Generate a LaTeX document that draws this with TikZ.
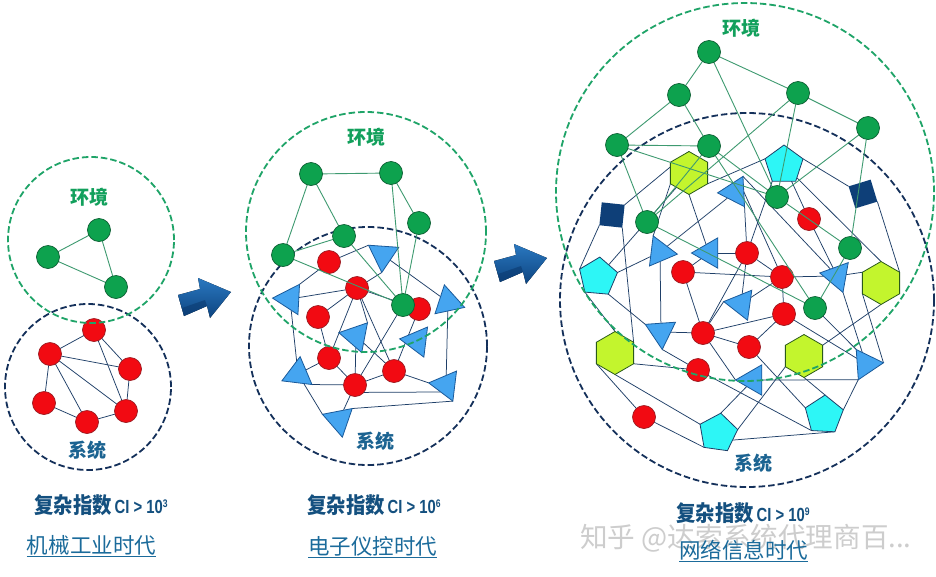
\documentclass[tikz,border=0pt]{standalone}
\usepackage{fontspec}
\usepackage{graphicx}
\usetikzlibrary{shapes.geometric,calc}
\setmainfont{Liberation Sans}
\newfontfamily\cjk{Noto Sans CJK SC}
\newfontfamily\narrowlat[FakeStretch=0.78]{Liberation Sans}
\definecolor{envgreen}{HTML}{1FA468}
\definecolor{sysnavy}{HTML}{14305A}
\definecolor{edgegreen}{HTML}{3E9A70}
\definecolor{edgenavy}{HTML}{1F3F68}
\definecolor{labgreen}{HTML}{12A05C}
\definecolor{labblue}{HTML}{1B6391}
\definecolor{cifill}{HTML}{14507F}
\definecolor{undercol}{HTML}{1B6B9B}
\definecolor{gfill}{HTML}{0DA24E}
\definecolor{gdraw}{HTML}{0B5E32}
\definecolor{rfill}{HTML}{F20A12}
\definecolor{rdraw}{HTML}{9A1A20}
\definecolor{tfill}{HTML}{45A5F0}
\definecolor{tdraw}{HTML}{1A5A9A}
\definecolor{pfill}{HTML}{2DF6F6}
\definecolor{hfill}{HTML}{C3F52D}
\definecolor{hdraw}{HTML}{2A5A1A}
\definecolor{sfill}{HTML}{0E3F78}
\definecolor{arrowtop}{HTML}{2A78C0}
\definecolor{arrowbot}{HTML}{0D4480}
\definecolor{arrowside}{HTML}{0B3A70}
\definecolor{wmcol}{HTML}{CDCDCD}
\pgfdeclarelayer{navylayer}
\pgfdeclarelayer{greenlayer}
\pgfdeclarelayer{greennodes}
\pgfdeclarelayer{toplayer}
\pgfsetlayers{navylayer,main,greenlayer,greennodes,toplayer}
\tikzset{
  gnode/.style={circle,draw=gdraw,line width=.7pt,fill=gfill,inner sep=0,outer sep=0,minimum size=23pt},
  rnode/.style={circle,draw=rdraw,line width=.7pt,fill=rfill,inner sep=0,outer sep=0,minimum size=23pt},
  tnode/.style={regular polygon,regular polygon sides=3,draw=tdraw,line width=.8pt,fill=tfill,inner sep=0,outer sep=0,minimum size=35pt},
  pnode/.style={regular polygon,regular polygon sides=5,draw=edgenavy,line width=.8pt,fill=pfill,inner sep=0,outer sep=0,minimum size=40pt},
  hnode/.style={regular polygon,regular polygon sides=6,shape border rotate=30,draw=hdraw,line width=.8pt,fill=hfill,inner sep=0,outer sep=0,minimum size=43pt},
  snode/.style={rectangle,fill=sfill,inner sep=0,outer sep=0,minimum size=23pt},
  envring/.style={circle,draw=envgreen,line width=1.8pt,dash pattern=on 6.5pt off 3pt,inner sep=0,outer sep=0},
  sysring/.style={circle,draw=sysnavy,line width=1.8pt,dash pattern=on 6.5pt off 3pt,inner sep=0,outer sep=0},
  nline/.style={draw=edgenavy,line width=.75pt},
  gline/.style={draw=edgegreen,line width=.9pt},
  envlab/.style={font=\cjk\bfseries\fontsize{19}{22}\selectfont,text=labgreen,inner sep=0},
  syslab/.style={font=\cjk\bfseries\fontsize{19}{22}\selectfont,text=labblue,inner sep=0},
  cilab/.style={text=cifill,inner sep=0},
  eralab/.style={font=\cjk\fontsize{21.5}{24}\selectfont,text=undercol,inner sep=0},
  wmark/.style={font=\cjk\fontsize{27.6}{30}\selectfont,text=wmcol,inner sep=0}
}
\newcommand{\gn}[3]{\node[gnode] (#1) at (#2,#3) {};}
\newcommand{\rn}[3]{\node[rnode] (#1) at (#2,#3) {};}
\newcommand{\tn}[4]{\pgfmathsetmacro\tmprot{#4-90}\node[tnode,shape border rotate=\tmprot] (#1) at (#2,#3) {};}
\newcommand{\pn}[4]{\node[pnode,shape border rotate=#4] (#1) at (#2,#3) {};}
\newcommand{\hn}[3]{\node[hnode] (#1) at (#2,#3) {};}
\newcommand{\cilabel}[1]{\scalebox{.88}[1]{\cjk\bfseries\fontsize{22}{24}\selectfont 复杂指数}\hspace{3pt}{\narrowlat\bfseries\fontsize{19}{22}\selectfont CI > 10\raisebox{6pt}{\fontsize{11}{12}\selectfont #1}}}
\newcommand{\blockarrow}[2]{%
  \begin{scope}[shift={(#1,#2)}]
    \fill[top color=arrowtop,bottom color=arrowbot] (178,295) -- (200,289) -- (198,278) -- (231,292) -- (210,318) -- (207,306) -- (184,316) -- cycle;
    \fill[arrowside,opacity=.6] (178,295) -- (184,316) -- (207,306) -- (205,300) -- (182,308) -- cycle;
  \end{scope}}
\begin{document}
\begin{tikzpicture}[x=1pt,y=-1pt]
\useasboundingbox (0,0) rectangle (936,576);
% ---------- rings
\begin{pgfonlayer}{navylayer}
  \fill[white] (0,0) rectangle (936,576);
  \node[sysring,minimum size=166pt] (ring1s) at (88,387) {};
  \node[sysring,minimum size=238pt] (ring2s) at (368,346) {};
  \node[sysring,minimum size=374pt] (ring3s) at (747,300) {};
\end{pgfonlayer}
\begin{pgfonlayer}{toplayer}
  \node[envring,minimum size=166pt] (ring1e) at (91,240) {};
  \node[envring,minimum size=240pt] (ring2e) at (366,232) {};
  \node[envring,minimum size=378pt] (ring3e) at (745,192) {};
\end{pgfonlayer}
% ---------- cluster 1
\rn{a1}{94}{330}\rn{a2}{50}{354}\rn{a3}{130}{369}\rn{a4}{44}{403}\rn{a5}{87}{422}\rn{a6}{126}{411}
\begin{pgfonlayer}{greennodes}
  \gn{ag1}{99}{230}\gn{ag2}{48}{257}\gn{ag3}{116}{287}
\end{pgfonlayer}
\begin{pgfonlayer}{greenlayer}
  \foreach \p/\q in {ag1/ag2,ag1/ag3,ag2/ag3} \draw[gline] (\p) -- (\q);
\end{pgfonlayer}
\begin{pgfonlayer}{navylayer}
  \foreach \p/\q in {a1/a2,a1/a3,a1/a6,a2/a3,a2/a4,a2/a5,a2/a6,a3/a6,a4/a5,a5/a6} \draw[nline] (\p) -- (\q);
\end{pgfonlayer}
% ---------- cluster 2
\rn{b1}{329}{262}\rn{b2}{357}{288}\rn{b3}{419}{309}\rn{b4}{318}{317}\rn{b5}{329}{358}\rn{b6}{355}{385}\rn{b7}{394}{371}
\tn{bt1}{383}{255}{-94}\tn{bt2}{290}{299}{177}\tn{bt3}{448}{302}{-18}\tn{bt4}{356}{336}{169}
\tn{bt5}{417}{341}{173}\tn{bt6}{298}{374}{83}\tn{bt7}{446}{385}{173}\tn{bt8}{339}{420}{-79}
\begin{pgfonlayer}{greennodes}
  \gn{bg1}{311}{174}\gn{bg2}{391}{173}\gn{bg3}{419}{223}\gn{bg4}{344}{236}\gn{bg5}{283}{255}\gn{bg6}{403}{305}
\end{pgfonlayer}
\begin{pgfonlayer}{greenlayer}
  \foreach \p/\q in {bg1/bg2,bg1/bg5,bg1/bg4,bg2/bg3,bg2/bg6,bg3/bg6,bg4/bg5,bg4/bg6,bg5/bg6} \draw[gline] (\p) -- (\q);
\end{pgfonlayer}
\begin{pgfonlayer}{navylayer}
  \foreach \p/\q in {b1/bt1.corner 3,b1/bt2.corner 3,bt2/b2,b2/bt1.corner 1,b2/b3,b2/b4,b2/b5,b2/bt4.corner 3,b2/b7,bt1/bt3,bt2/bt6,b4/b5,b5/bt6,b5/b6,bt6.corner 3/b6,bt4/b6,bt4/b7,b6/b7,b7/bt7.corner 1,b7/b3,b6/bg6,bt7/bt3,bt6/bt8.corner 3,b6/bt8,bt8.corner 2/bt7.corner 2}
    \draw[nline] (\p) -- (\q);
  \draw[nline] (b6.-40) -- ($(bt7.corner 1)!.5!(bt7.corner 2)$);
\end{pgfonlayer}
% ---------- cluster 3
\rn{r1}{809}{219}\rn{r2}{747}{253}\rn{r3}{683}{272}\rn{r4}{782}{277}\rn{r5}{784}{314}\rn{r6}{703}{333}\rn{r7}{749}{347}\rn{r8}{698}{370}\rn{r9}{644}{417}
\tn{t1}{735}{192}{183}\tn{t2}{660}{252}{-7}\tn{t3}{709}{253}{180}\tn{t4}{741}{304}{172}
\tn{t5}{837}{276}{170}\tn{t6}{661}{332}{-86}\tn{t7}{753}{380}{180}\tn{t8}{866}{364}{4}
\hn{h1}{689}{173}\hn{h2}{881}{283}\hn{h3}{615}{353}\hn{h4}{804}{356}
\pn{p1}{784}{165}{0}\pn{p2}{598}{277}{-5}\pn{p3}{718}{433}{-8}\pn{p4}{824}{415}{-3}
\node[snode,rotate=-6] (s1) at (612,215) {};
\node[snode,rotate=17] (s2) at (863,194) {};
\begin{pgfonlayer}{greennodes}
  \gn{g1}{709}{52}\gn{g2}{679}{95}\gn{g3}{798}{93}\gn{g4}{868}{128}\gn{g5}{617}{145}
  \gn{g6}{709}{146}\gn{g7}{777}{197}\gn{g8}{647}{222}\gn{g9}{850}{248}\gn{g10}{815}{308}
\end{pgfonlayer}
\begin{pgfonlayer}{greenlayer}
  \foreach \p/\q in {g1/g2,g1/g3,g1/g7,g2/g5,g2/g6,g6/g10,g5/g6,g5/g8,g5/g7,g6/g7,g7/g9,g3/g4,g3/g8,g6/g8,g3/g7,g4/g7,g4/g9,g9/g10,g8/g10}
    \draw[gline] (\p) -- (\q);
\end{pgfonlayer}
\begin{pgfonlayer}{navylayer}
  \foreach \p/\q in {h1.corner 1/s1.north east,h1/p2,h1.corner 3/t2.corner 2,h1.corner 4/t3,h1.corner 5/p1.corner 2,s1.south west/p2.corner 2,s1.south east/h3.corner 6,t2/p2.corner 5,t2/t1,t2/t6,t3/r2,t3/r3,t1.corner 2/r2,r2/p1.corner 3,p2.corner 3/h3.corner 1,p2.corner 4/t6.corner 3,t6/r6,t6.corner 1/r8,r3/r6,r3/r4,r2/r6,r2/t4,r2/r4,t4.corner 1/r6,t4/r4,r4/r5,r4/t5,r5/r6,r6/r7,r7/r5,r5/t8,r6/t7.corner 1,r8/p4.corner 3,r7/p4.corner 2,h3.corner 5/r8,h3.corner 4/p3.corner 2,h3.corner 3/r9,r9/p3.corner 3,p3.corner 1/t7,p3.corner 5/h4.corner 3,p4.corner 5/t8,p4.corner 1/h4.corner 4,t7/t8.corner 3,h4.corner 6/h2.corner 4,t8.corner 1/h2.corner 3,g10/t8.corner 2,t5.corner 2/t8,p1.corner 5/s2.north west,p1/h2.corner 1,p1/r1,r1/t5,s2.south east/h2.corner 6,t1.corner 3/t5,t5/h2.corner 2}
    \draw[nline] (\p) -- (\q);
  \draw[nline] ($(t1.corner 2)!.5!(t1.corner 3)$) -- (r4);
  \draw[nline] ($(p3.corner 4)!.5!(p3.corner 5)$) -- (p4.corner 4);
\end{pgfonlayer}
% ---------- arrows
\blockarrow{0}{0}
\blockarrow{316}{-34}
% ---------- labels
\begin{pgfonlayer}{toplayer}
  \node[envlab] (l1e) at (89,197) {环境};
  \node[syslab] (l1s) at (87,450) {系统};
  \node[envlab] (l2e) at (366,137) {环境};
  \node[syslab] (l2s) at (375,441) {系统};
  \node[envlab] (l3e) at (741,28) {环境};
  \node[syslab] (l3s) at (753,463) {系统};
  \node[wmark] (wm) at (746,538) {知乎 @达索系统代理商百...};
  \node[cilab] (c1) at (101,505) {\cilabel{3}};
  \node[cilab] (c2) at (374,505) {\cilabel{6}};
  \node[cilab] (c3) at (743,513) {\cilabel{9}};
  \node[eralab] (e1) at (91.5,546) {\underline{机械工业时代}};
  \node[eralab] (e2) at (372.5,547) {\underline{电子仪控时代}};
  \node[eralab] (e3) at (743.5,551) {\underline{网络信息时代}};
\end{pgfonlayer}
\end{tikzpicture}
\end{document}
